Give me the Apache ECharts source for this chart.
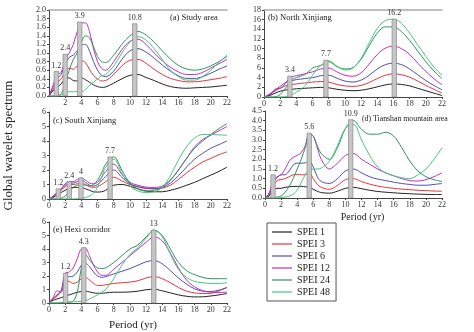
<!DOCTYPE html>
<html><head><meta charset="utf-8">
<script src="https://cdn.jsdelivr.net/npm/echarts@6/dist/echarts.min.js"></script>
<style>html,body{margin:0;padding:0;background:#fff}#c{width:474px;height:332px}</style>
</head><body><div id="c"></div>
<script>
const periods = [0,0.5,1,1.5,2,2.5,3,3.5,4,4.5,5,5.5,6,6.5,7,8,9,10,11,12,13,14,15,16,17,18,19,20,21,22];
const seriesNames = ['SPEI 1','SPEI 3','SPEI 6','SPEI 12','SPEI 24','SPEI 48'];
const colors = ['#222222','#e8343c','#4f4fb0','#c42cc4','#2e9460','#46c878'];

// (a) Study area
const a_spei1 = [0,0.12,0.2,0.28,0.4,0.42,0.36,0.35,0.42,0.38,0.32,0.26,0.22,0.2,0.21,0.3,0.4,0.48,0.5,0.43,0.36,0.28,0.22,0.19,0.18,0.19,0.2,0.21,0.23,0.25];
const a_spei3 = [0,0.15,0.3,0.4,0.55,0.65,0.62,0.7,0.82,0.78,0.62,0.48,0.4,0.35,0.36,0.5,0.7,0.83,0.85,0.76,0.62,0.5,0.41,0.36,0.33,0.33,0.35,0.38,0.41,0.45];
const a_spei6 = [0,0.2,0.4,0.5,0.75,0.9,0.95,1.05,1.18,1.2,1.05,0.8,0.6,0.48,0.45,0.58,0.85,1.05,1.1,1.02,0.88,0.72,0.58,0.47,0.41,0.41,0.45,0.53,0.62,0.7];
const a_spei12 = [0,0.25,0.5,0.55,0.85,1.0,1.2,1.5,1.7,1.7,1.5,1.1,0.8,0.64,0.6,0.8,1.08,1.27,1.32,1.2,1.0,0.82,0.67,0.56,0.5,0.5,0.55,0.65,0.75,0.85];
const a_spei24 = [0,0,0.02,0.05,0.3,0.6,0.85,1.0,1.25,1.4,1.35,1.15,0.92,0.8,0.78,0.95,1.2,1.4,1.5,1.42,1.25,1.05,0.86,0.71,0.63,0.6,0.63,0.7,0.8,0.92];
const a_spei48 = [0,0,0,0.02,0.08,0.1,0.1,0.1,0.1,0.15,0.25,0.32,0.4,0.47,0.5,0.7,1.0,1.25,1.38,1.3,1.1,0.85,0.6,0.45,0.37,0.37,0.45,0.6,0.78,0.95];
const a_barX = [0.9,2.0,3.8,10.6];
const a_barH = [0.57,0.97,1.72,1.68];
const a_barLabels = ['1.2','2.4','3.9','10.8'];

// (b) North Xinjiang
const b_spei1 = [0,0.2,0.5,0.9,1.2,1.4,1.5,1.6,1.7,1.75,1.8,1.85,1.9,1.95,2.0,1.9,1.6,1.4,1.3,1.4,1.7,2.1,2.5,2.7,2.6,2.3,1.8,1.3,0.8,0.3];
const b_spei3 = [0,0.3,0.8,1.4,1.8,2.2,2.5,2.6,2.7,2.8,2.9,3.0,3.1,3.15,3.2,3.1,2.6,2.3,2.2,2.4,3.0,3.8,4.5,4.8,4.6,4.1,3.3,2.4,1.6,0.8];
const b_spei6 = [0,0.3,0.9,1.6,2.2,2.8,3.2,3.4,3.6,3.7,3.8,3.9,4.0,4.2,4.4,4.5,3.9,3.3,3.1,3.5,4.5,5.8,6.7,7.0,6.7,5.8,4.6,3.4,2.4,1.5];
const b_spei12 = [0,0.4,1.0,1.7,1.8,2.5,3.6,4.2,4.4,4.6,4.8,5.0,5.2,5.5,5.8,6.0,5.2,4.5,4.3,5.0,6.8,8.8,10.1,10.5,10.0,8.8,7.0,5.3,3.8,2.5];
const b_spei24 = [0,0,0,0.1,0.5,1.5,2.5,3.6,4.0,4.3,4.6,5.2,6.0,6.3,6.5,7.3,6.3,5.8,6.1,7.8,10.6,13.2,14.5,14.5,13.5,11.7,9.5,7.3,5.4,3.8];
const b_spei48 = [0,0,0,0,0,0.05,0.2,0.5,1.0,1.5,2.2,3.2,4.5,5.6,6.5,7.5,6.4,5.6,6.0,8.0,11.2,14.2,15.8,16.1,15.2,13.2,10.8,8.4,6.2,4.5];
const b_barX = [3.2,7.65,16.1];
const b_barH = [4.3,7.6,16.1];
const b_barLabels = ['3.4','7.7','16.2'];

// (c) South Xinjiang
const c_spei1 = [0,0.1,0.3,0.45,0.6,0.75,0.8,0.8,0.8,0.7,0.6,0.5,0.48,0.5,0.6,0.95,1.0,0.88,0.7,0.55,0.5,0.5,0.6,0.75,0.95,1.15,1.4,1.65,1.9,2.2];
const c_spei3 = [0,0.15,0.35,0.6,0.85,1.0,1.0,1.05,1.1,1.0,0.85,0.8,0.85,1.0,1.2,1.5,1.25,1.0,0.85,0.72,0.7,0.75,0.95,1.35,1.8,2.2,2.55,2.8,3.05,3.25];
const c_spei6 = [0,0.15,0.4,0.65,0.95,1.1,1.1,1.2,1.3,1.15,0.95,0.9,1.0,1.25,1.55,2.0,1.5,1.05,0.85,0.75,0.72,0.8,1.1,1.6,2.2,2.75,3.15,3.5,3.75,4.0];
const c_spei12 = [0,0.2,0.45,0.7,1.05,1.2,1.2,1.35,1.45,1.3,1.1,1.05,1.15,1.5,1.9,2.4,1.7,1.15,0.95,0.82,0.8,0.9,1.3,2.0,2.8,3.6,4.1,4.4,4.7,5.0];
const c_spei24 = [0,0,0,0.05,0.2,0.5,0.8,0.95,1.0,0.95,0.9,1.0,1.3,1.8,2.4,2.9,2.0,1.1,0.7,0.55,0.6,0.8,1.3,2.0,2.8,3.5,4.0,4.45,4.85,5.2];
const c_spei48 = [0,0,0,0,0,0,0,0.02,0.05,0.1,0.2,0.4,0.8,1.5,2.2,2.75,1.8,0.9,0.55,0.45,0.5,0.8,1.6,2.7,3.6,4.2,4.45,4.45,4.42,4.4];
const c_barX = [1.15,2.5,3.95,7.55];
const c_barH = [0.7,1.2,1.45,2.9];
const c_barLabels = ['1.2','2.4','4','7.7'];

// (d) Tianshan mountain area
const d_spei1 = [0,0.1,0.4,0.5,0.5,0.55,0.58,0.6,0.6,0.6,0.58,0.55,0.45,0.35,0.28,0.25,0.35,0.5,0.55,0.48,0.4,0.34,0.3,0.27,0.24,0.22,0.2,0.19,0.18,0.18];
const d_spei3 = [0,0.15,0.6,0.9,0.95,1.0,1.1,1.2,1.22,1.2,1.2,1.3,1.0,0.7,0.55,0.45,0.65,0.95,1.0,0.85,0.72,0.62,0.55,0.5,0.46,0.43,0.4,0.38,0.36,0.35];
const d_spei6 = [0,0.2,0.8,1.05,1.2,1.2,1.4,1.7,1.8,1.8,1.82,1.9,1.6,1.1,0.85,0.75,1.0,1.4,1.5,1.3,1.1,0.98,0.9,0.82,0.75,0.7,0.66,0.66,0.7,0.75];
const d_spei12 = [0,0.25,0.9,1.1,1.2,1.5,1.9,2.1,2.2,2.35,2.7,3.3,3.2,2.6,2.0,1.5,1.8,2.2,2.3,2.0,1.75,1.5,1.3,1.15,1.0,0.9,0.88,0.95,1.1,1.3];
const d_spei24 = [0,0,0.02,0.05,0.1,0.3,0.6,1.0,1.5,2.0,2.6,3.3,3.2,2.7,2.3,2.0,2.6,3.6,4.0,3.55,3.3,3.3,3.4,3.2,2.6,1.9,1.4,1.1,0.95,0.85];
const d_spei48 = [0,0,0,0,0.02,0.05,0.1,0.2,0.4,0.8,1.2,1.45,1.5,1.5,1.55,1.9,2.7,3.6,3.8,3.0,2.2,1.6,1.3,1.15,1.05,1.0,1.2,1.5,2.0,2.6];
const d_barX = [1.0,5.5,10.65];
const d_barH = [1.2,3.35,4.05];
const d_barLabels = ['1.2','5.6','10.9'];

// (e) Hexi corridor
const e_spei1 = [0,0.2,0.3,0.4,0.5,0.6,0.7,0.8,0.85,0.88,0.82,0.75,0.72,0.72,0.75,0.8,0.8,0.82,0.88,0.98,1.02,0.9,0.75,0.6,0.5,0.45,0.46,0.52,0.6,0.7];
const e_spei3 = [0,0.3,0.5,0.9,1.7,1.6,1.45,1.55,1.8,1.88,1.7,1.45,1.3,1.3,1.35,1.45,1.5,1.55,1.65,1.85,1.95,1.8,1.5,1.15,0.88,0.75,0.7,0.72,0.9,1.15];
const e_spei6 = [0,0.35,0.6,0.9,2.0,1.95,2.0,2.3,2.8,2.92,2.7,2.3,2.0,1.9,1.95,2.15,2.35,2.55,2.8,3.05,3.15,2.9,2.4,1.85,1.4,1.05,0.88,0.85,0.95,1.15];
const e_spei12 = [0,0.4,0.9,0.8,2.2,2.3,2.6,3.3,4.0,4.05,3.5,2.8,2.3,2.05,2.05,2.5,3.0,3.5,4.0,4.5,4.9,4.6,3.7,2.6,1.7,1.2,0.9,0.8,0.78,0.8];
const e_spei24 = [0,0,0,0.02,0.05,0.08,0.15,0.8,2.6,3.6,3.2,2.85,2.6,2.55,2.6,3.0,3.5,4.0,4.3,4.9,5.4,5.0,4.0,3.0,2.4,2.1,1.9,1.8,1.8,1.8];
const e_spei48 = [0,0,0,0,0.02,0.05,0.08,0.1,0.12,0.15,0.3,0.45,0.6,0.8,1.0,1.8,2.8,3.6,4.1,4.8,5.35,4.9,3.6,2.5,1.9,1.6,1.5,1.45,1.45,1.5];
const e_barX = [2.05,4.3,12.95];
const e_barH = [2.2,4.1,5.4];
const e_barLabels = ['1.2','4.3','13'];

const yMax = [2.0, 18, 6, 4.5, 6];
const yInterval = [0.2, 2, 1, 0.5, 1];
const yDecimals = [1, 0, 0, 1, 0];
const panelTitles = ['(a) Study area','(b) North Xinjiang','(c) South Xinjiang','(d) Tianshan mountain area','(e) Hexi corridor'];

const panels = [
  {lines:[a_spei1,a_spei3,a_spei6,a_spei12,a_spei24,a_spei48], bx:a_barX, bh:a_barH, bl:a_barLabels},
  {lines:[b_spei1,b_spei3,b_spei6,b_spei12,b_spei24,b_spei48], bx:b_barX, bh:b_barH, bl:b_barLabels},
  {lines:[c_spei1,c_spei3,c_spei6,c_spei12,c_spei24,c_spei48], bx:c_barX, bh:c_barH, bl:c_barLabels},
  {lines:[d_spei1,d_spei3,d_spei6,d_spei12,d_spei24,d_spei48], bx:d_barX, bh:d_barH, bl:d_barLabels},
  {lines:[e_spei1,e_spei3,e_spei6,e_spei12,e_spei24,e_spei48], bx:e_barX, bh:e_barH, bl:e_barLabels}
];

const FONT = 'Liberation Serif';
const grids = [
  {left:49, top:10, width:178, height:86},
  {left:264, top:10, width:178, height:87},
  {left:49, top:112, width:178, height:87},
  {left:265, top:111, width:177, height:87},
  {left:49, top:222, width:178, height:85}
];
const axisCol = '#444';
const xAxes = [], yAxes = [], series = [];
panels.forEach((p, i) => {
  xAxes.push({
    type:'value', gridIndex:i, min:0, max:22, interval:2,
    axisLine:{show:true, onZero:false, lineStyle:{color:axisCol, width:1}},
    axisTick:{show:true, length:2, lineStyle:{color:axisCol}},
    axisLabel:{fontFamily:FONT, fontSize:8, color:'#333', margin:3, showMinLabel: i !== 0},
    splitLine:{show:false},
    name: i === 3 || i === 4 ? 'Period (yr)' : '',
    nameLocation:'middle', nameGap: i === 4 ? 17 : 14,
    nameTextStyle:{fontFamily:FONT, fontSize: i === 4 ? 11 : 10, color:'#222', padding: i === 3 ? [0,0,0,18] : [0,0,0,-10]}
  });
  yAxes.push({
    type:'value', gridIndex:i, min:0, max:yMax[i], interval:yInterval[i],
    axisLine:{show:true, lineStyle:{color:axisCol, width:1}},
    axisTick:{show:true, length:2, lineStyle:{color:axisCol}},
    axisLabel:{fontFamily:FONT, fontSize:8, color:'#333', margin:3, formatter:v => v.toFixed(yDecimals[i])},
    splitLine:{show:false},
    name: i === 2 ? 'Global wavelet spectrum' : '',
    nameLocation:'middle', nameGap:34,
    nameTextStyle:{fontFamily:FONT, fontSize:13, color:'#222', padding:[0,0,0,20]}
  });
  p.lines.forEach((vals, k) => {
    series.push({
      type:'line', name:seriesNames[k], xAxisIndex:i, yAxisIndex:i,
      data: periods.map((x, j) => [x, vals[j]]),
      smooth:0.35, symbol:'none', showSymbol:false,
      lineStyle:{color:colors[k], width:1}, itemStyle:{color:colors[k]},
      z:2, silent:true, animation:false
    });
  });
  series.push({
    type:'custom', xAxisIndex:i, yAxisIndex:i, z:5, silent:true, animation:false,
    data: p.bx.map((x, j) => [x, p.bh[j]]),
    renderItem: (params, api) => {
      const x = api.value(0), h = api.value(1);
      const w = 0.55;
      const p0 = api.coord([x - w/2, h]);
      const p1 = api.coord([x + w/2, 0]);
      return {type:'group', children:[
        {type:'rect', shape:{x:p0[0], y:p0[1], width:p1[0]-p0[0], height:p1[1]-p0[1]},
         style:{fill:'#c6c6c6', stroke:'#7a7a7a', lineWidth:0.6}},
        {type:'text', style:{text:p.bl[params.dataIndex], x:(p0[0]+p1[0])/2, y:p0[1]-2,
          align:'center', verticalAlign:'bottom', textAlign:'center', textVerticalAlign:'bottom',
          fontFamily:FONT, fontSize:8, fill:'#333'}}
      ]};
    }
  });
});
// top frame lines for (a) and (b)
[0,1].forEach(i => {
  xAxes.push({type:'value', gridIndex:i, min:0, max:22, position:'top',
    axisLine:{show:true, onZero:false, lineStyle:{color:'#aaa', width:1.5}},
    axisTick:{show:false}, axisLabel:{show:false}, splitLine:{show:false}});
});

const titlePos = [
  {left:170, top:13}, {left:268, top:13}, {left:53, top:116}, {left:362, top:115}, {left:53, top:225}
];
const titles = panelTitles.map((t, i) => ({
  text:t, left:titlePos[i].left, top:titlePos[i].top, padding:0,
  textStyle:{fontFamily:FONT, fontSize: i === 3 ? 7.8 : 8.5, fontWeight:'normal', color:'#222'}
}));

const chart = echarts.init(document.getElementById('c'), null, {renderer:'canvas'});
chart.setOption({
  animation:false,
  backgroundColor:'#fff',
  title: titles,
  grid: grids,
  xAxis: xAxes,
  yAxis: yAxes,
  legend: {
    show:true, data: seriesNames, orient:'vertical', left:267, top:223,
    icon:'rect', itemWidth:20, itemHeight:1.2, itemGap:2, padding:[4,6,4,5],
    borderColor:'#555', borderWidth:1,
    textStyle:{fontFamily:FONT, fontSize:10, color:'#222', lineHeight:10},
    selectedMode:false
  },
  series: series
});
</script></body></html>
